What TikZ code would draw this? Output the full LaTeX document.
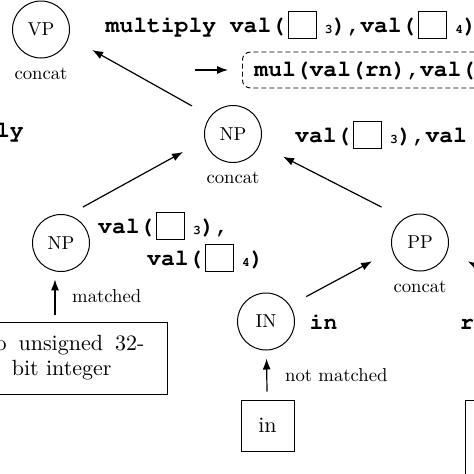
\documentclass[tikz,border=0pt]{standalone}
\usepackage[T1,TU]{fontenc}
\usetikzlibrary{arrows.meta,positioning}
% Latin Modern at its 10pt design, scaled up
\DeclareFontFamily{TU}{lmten}{}
\DeclareFontShape{TU}{lmten}{m}{n}{<-> "[lmroman10-regular]:+tlig;"}{}
\newcommand{\labfont}{\fontfamily{lmten}\fontsize{18.7}{22}\selectfont}
\newcommand{\leaffont}{\fontfamily{lmten}\fontsize{22}{25}\selectfont}
\newcommand{\codefont}{\fontencoding{T1}\fontfamily{pcr}\fontseries{b}\fontsize{23}{26}\selectfont}
% empty slot with its index
\newcommand{\hole}[1]{\kern2.8pt{\setlength{\fboxsep}{0pt}\setlength{\fboxrule}{1pt}%
  \fbox{\rule[-6pt]{0pt}{26pt}\hspace{27pt}}}\kern8pt\raisebox{-1pt}{\fontsize{13}{13}\selectfont #1}}
\tikzset{%
    >={Latex[length=11pt,width=8pt]},
    % Specifications for style of nodes:
    cat/.style = {circle, draw, line width=1pt, minimum size=57pt,
        inner sep=0pt, font=\labfont},
    note/.style = {inner sep=0pt, font=\labfont},
    code/.style = {inner sep=0pt, font=\codefont, anchor=base west},
    leaf/.style = {rectangle, draw, line width=1pt, font=\leaffont},
    codebox/.style = {draw, dashed, dash pattern=on 5pt off 3pt, line width=0.9pt,
        rounded corners=8pt, font=\codefont, text width=240pt, align=left,
        inner xsep=12pt, inner ysep=6.5pt, text height=18pt, text depth=5pt},
    link/.style = {->, line width=1.2pt}
}
\begin{document}
\begin{tikzpicture}[x=1pt,y=-1pt]
\useasboundingbox (0,0) rectangle (474,474);
\clip (0,0) rectangle (474,474);
% Specification of nodes (position, etc.)
\node (vp)      [cat] at (41,29.5) {VP};
\node (vpcat)   [note, below=9pt of vp] {concat};
\node (np)      [cat] at (233,134) {NP};
\node (npcat)   [note, below=9pt of np] {concat};
\node (npl)     [cat] at (61,243) {NP};
\node (pp)      [cat] at (420,242.5) {PP};
\node (ppcat)   [note, below=9pt of pp] {concat};
\node (in)      [cat] at (266,321.5) {IN};
\node (intleaf) [leaf, anchor=east, align=right, inner xsep=23pt, minimum height=72pt]
    at (168,358) {\makebox[149pt][s]{o unsigned 32-}\\bit integer\hspace*{33pt}};
\node (inleaf)  [leaf, minimum width=53pt, minimum height=51pt] at (267.5,425.5) {in};
\node (rnleaf)  [leaf, anchor=north west, minimum width=60pt, minimum height=100pt] at (465,400) {};
\node (matched) [note, anchor=base west] at (72,302) {matched};
\node (notm)    [note, anchor=base west] at (285,381) {not matched};
% code attached to the nodes
\node (vpval)   [code] at (105.5,32) {multiply val(\hole{3}),val(\hole{4})};
\node (mul)     [codebox, anchor=west] at (242,70) {mul(val(rn),val(};
\node (lyval)   [code, anchor=base east] at (24,137) {ly};
\node (npval)   [code] at (295,142) {val(\hole{3}),val};
\node (nplval)  [code] at (98,233) {val(\hole{3}),};
\node (nplval2) [code] at (147,265) {val(\hole{4})};
\node (inval)   [code] at (309.5,329) {in};
\node (rnval)   [code] at (460,329) {r};
\coordinate (rnfoot) at (550,306);
\coordinate (mulfoot) at (195,70);
% Specification of paths
\draw[link, shorten <=20.8pt, shorten >=26.5pt] (np.142) -- (vp.345);
\draw[link, shorten <=16.5pt, shorten >=24.7pt] (npl.75) -- (np.192);
\draw[link, shorten <=25pt, shorten >=26pt] (pp.124) -- (np.338);
\draw[link, shorten <=18.4pt, shorten >=22.7pt] (in.34) -- (pp.196);
\draw[link, shorten >=22.7pt] (rnfoot) -- (pp.344);
\draw[link, shorten <=7pt, shorten >=8pt] (npl.258 |- intleaf.north) -- (npl.258);
\draw[link, shorten <=8pt, shorten >=8pt] (inleaf) -- (in);
\draw[link, shorten >=14pt] (mulfoot) -- (mul.west);
\end{tikzpicture}
\end{document}
